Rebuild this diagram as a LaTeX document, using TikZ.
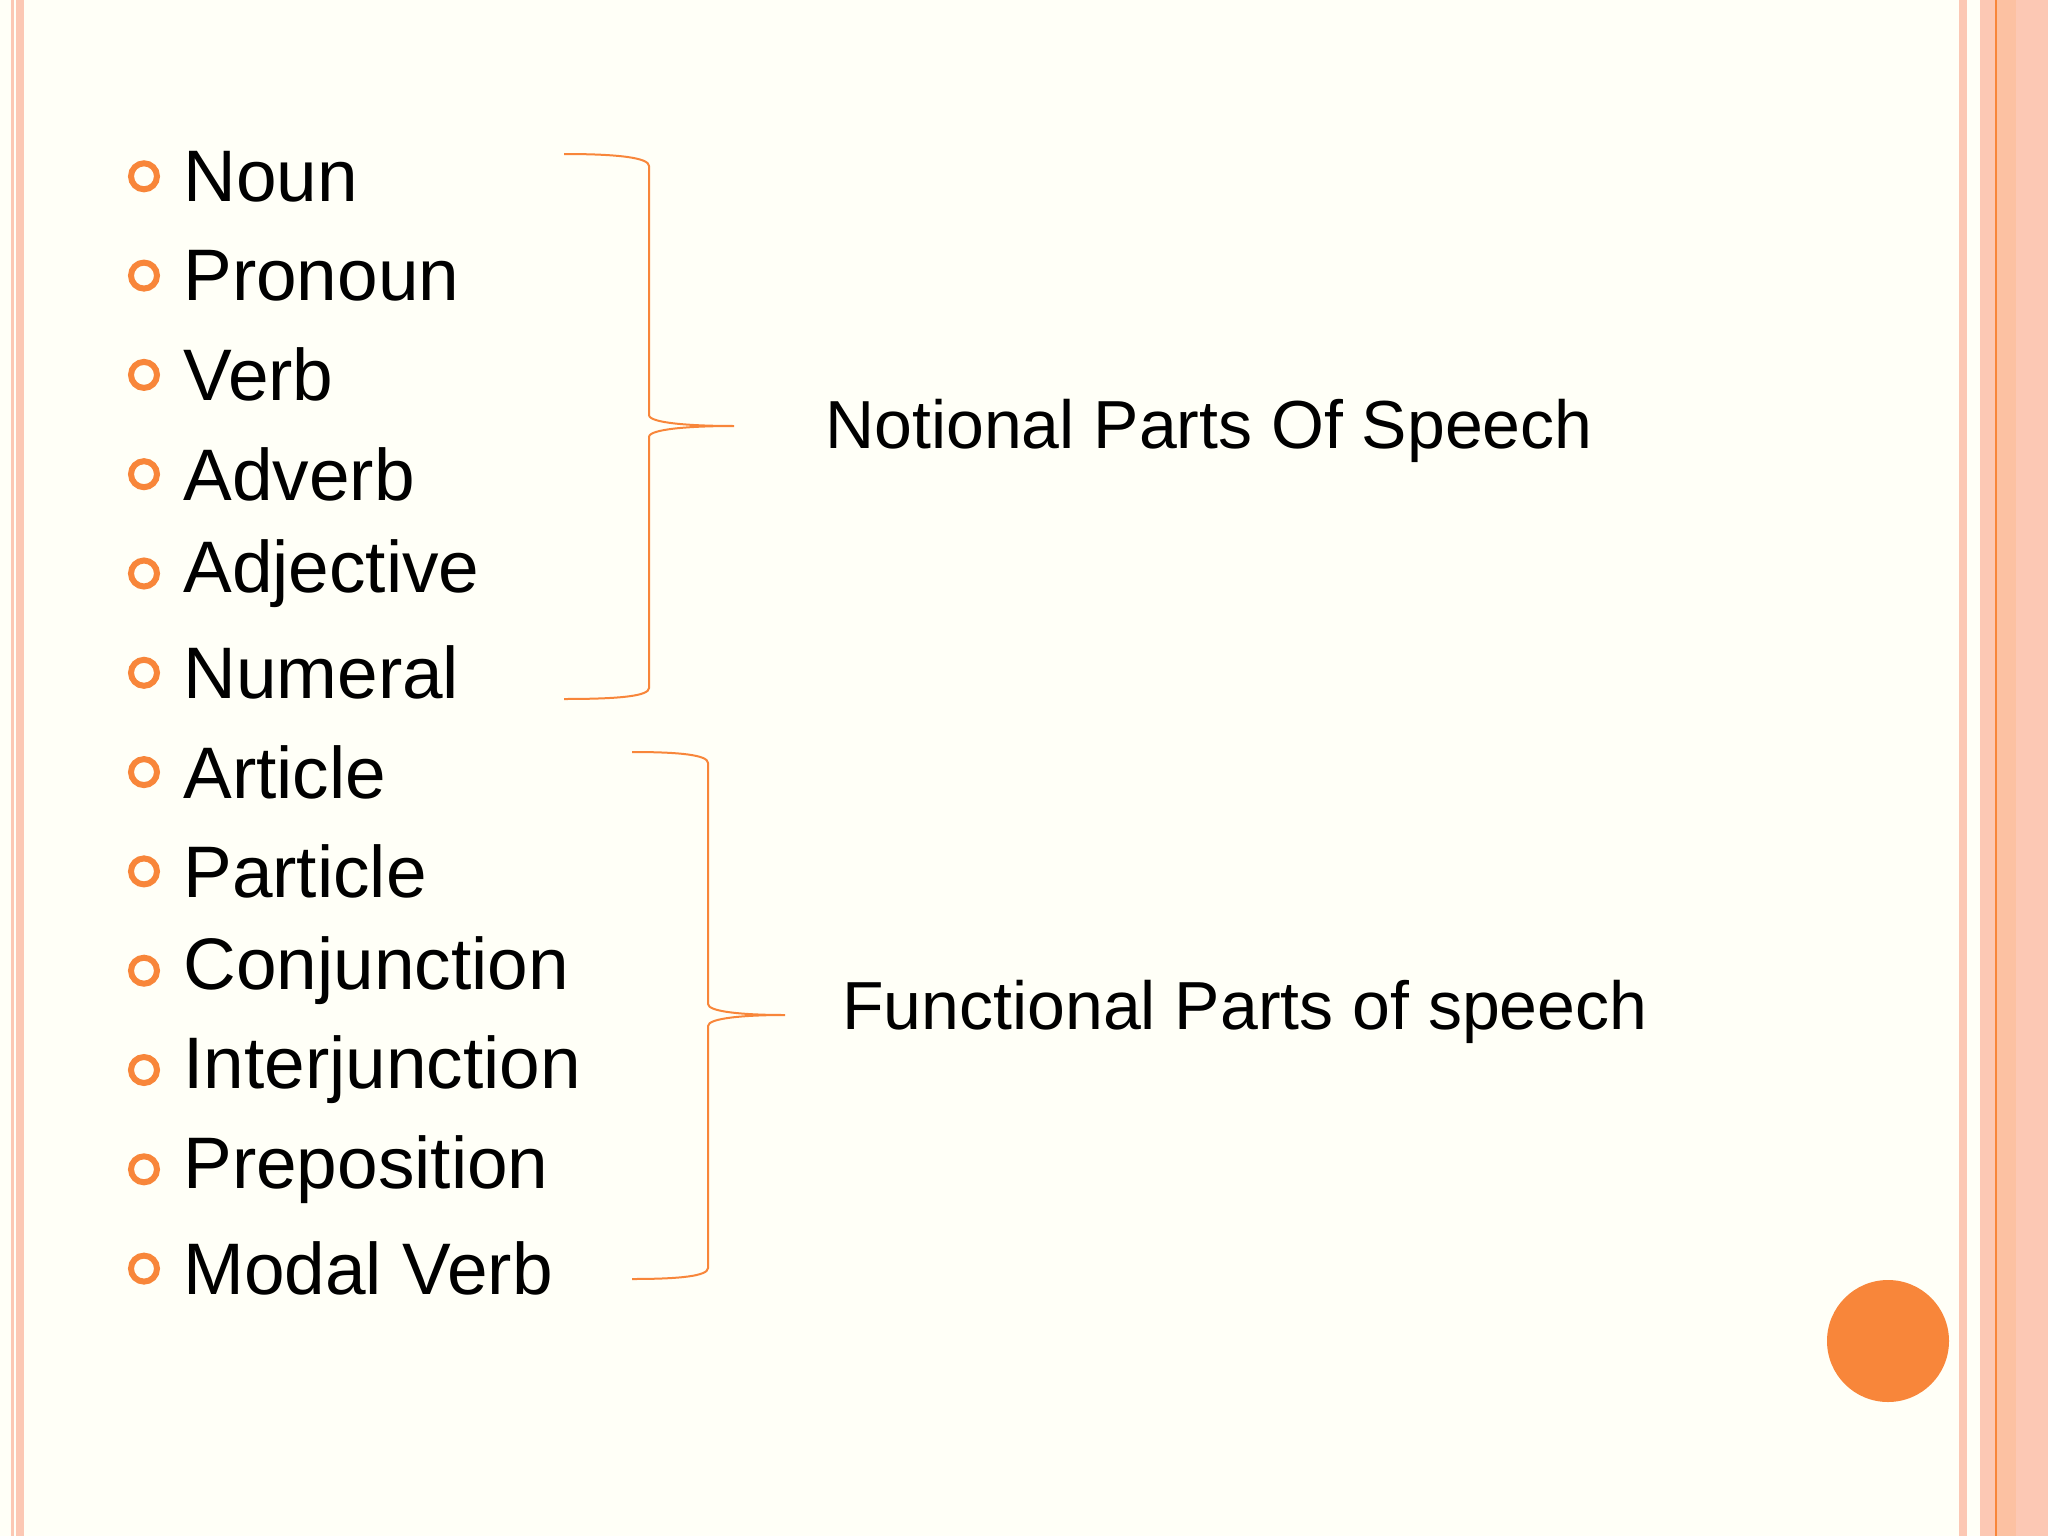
\documentclass[tikz,border=0pt]{standalone}
\usepackage{fontspec}
\setmainfont{Liberation Sans}
\definecolor{pinkband}{RGB}{252,200,180}
\definecolor{bulletorange}{RGB}{248,134,58}
\tikzset{every picture/.style={line width=0.75pt}}
\begin{document}
\begin{tikzpicture}[x=1pt,y=1pt,yscale=-1,xscale=1]
	\path[use as bounding box,fill=white!97!yellow] (0,0) rectangle (2048,1536);
	%borders
	\fill[pinkband] (11,0) rectangle (14,1536);
	\fill[pinkband] (16,0) rectangle (24,1536);
	\fill[pinkband] (1959,0) rectangle (1967,1536);
	\fill[pinkband] (1980,0) rectangle (2048,1536);
	\fill[pinkband!90!orange] (1996,0) rectangle (2016,1536);
	\draw[bulletorange,line width=1.5pt] (1996,0) -- (1996,1536);
	%items
	\foreach \word [count=\i] in {Noun,Pronoun,Verb,Adverb,Adjective,Numeral,Article,Particle,Conjunction,Interjunction,Preposition,Modal Verb}{
		\draw[bulletorange,line width=6] (144,{176.3+(\i-1)*99.3}) circle (13);
		\node[anchor=west,font=\fontsize{73}{80}\selectfont,inner sep=0] (item\i) at (183,{176.3+(\i-1)*99.3}) {\word};
	}
	%Curve Lines brace 1
	\draw[bulletorange,line width=2] (564,154) .. controls (620,154) and (649,158) .. (649,166) -- (649,415) .. controls (649,423) and (690,426) .. (734,426) .. controls (690,426) and (649,429) .. (649,437) -- (649,688) .. controls (649,696) and (620,699) .. (564,699);
	%Curve Lines brace 2
	\draw[bulletorange,line width=2] (632,752) .. controls (680,752) and (708,755) .. (708,763) -- (708,1004) .. controls (708,1012) and (745,1015) .. (785,1015) .. controls (745,1015) and (708,1018) .. (708,1026) -- (708,1268) .. controls (708,1276) and (680,1279) .. (632,1279);
	% Text Node
	\node[anchor=west,font=\fontsize{68}{76}\selectfont,inner sep=0] (notional) at (825,431) {Notional Parts Of Speech};
	% Text Node
	\node[anchor=west,font=\fontsize{68}{76}\selectfont,inner sep=0] (functional) at (842,1012) {Functional Parts of speech};
	%Shape: Circle
	\fill[bulletorange] (1888,1341) circle (61);
\end{tikzpicture}
\end{document}
